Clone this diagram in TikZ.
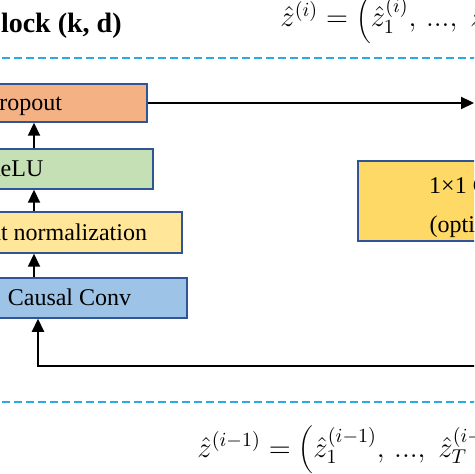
\documentclass[tikz,border=0pt]{standalone}
\usepackage{fontspec}
\setmainfont{Liberation Serif}
\usetikzlibrary{arrows.meta}
\definecolor{bordc}{HTML}{2F5597}
\definecolor{dropc}{HTML}{F4B183}
\definecolor{reluc}{HTML}{C5E0B4}
\definecolor{bnc}{HTML}{FFE699}
\definecolor{ccc}{HTML}{9DC3E6}
\definecolor{onec}{HTML}{FFD966}
\definecolor{dashc}{HTML}{2AABDF}
\begin{document}
\begin{tikzpicture}[x=0.5pt,y=-0.5pt,
  blockbox/.style={draw=bordc,line width=0.75pt,rectangle,inner sep=0pt,
    text height=8pt,text depth=0pt,font=\fontsize{12}{14}\selectfont},
  arr/.style={line width=1.1pt,-{Triangle[length=6.5pt,width=6pt]}},
  sepline/.style={draw=dashc,line width=1pt,dash pattern=on 4pt off 2pt},
  mathlbl/.style={inner sep=0pt,font=\fontsize{14}{16}\selectfont}]
\useasboundingbox (0,0) rectangle (474,474);
\clip (0,0) rectangle (474,474);
\fill[white] (0,0) rectangle (474,474);
% title and formulas
\node[anchor=base east,inner sep=0pt,font=\fontsize{14}{16}\selectfont\bfseries] (title) at (122,33) {Residual block (k, d)};
\node[mathlbl,anchor=base west] (zout) at (280,27) {$\hat{z}^{(i)} = \left(\hat{z}_1^{(i)},\, ...,\; \hat{z}_T^{(i)}\right)$};
\node[mathlbl,anchor=base west] (zin) at (197,457) {$\hat{z}^{(i-1)} = \left(\hat{z}_1^{(i-1)},\, ...,\; \hat{z}_T^{(i-1)}\right)$};
% separators
\coordinate (sepAl) at (-10,58); \coordinate (sepAr) at (484,58);
\coordinate (sepBl) at (-10,402); \coordinate (sepBr) at (484,402);
\draw[sepline] (sepAl) -- (sepAr);
\draw[sepline] (sepBl) -- (sepBr);
% boxes
\node[blockbox,fill=dropc,minimum width=250*0.5pt,minimum height=38*0.5pt] (drop) at (22,103) {Dropout};
\node[blockbox,fill=reluc,minimum width=278*0.5pt,minimum height=40*0.5pt] (relu) at (14,169) {ReLU};
\node[blockbox,fill=bnc,minimum width=278*0.5pt,minimum height=41*0.5pt] (bn) at (43,232.5) {Weight normalization};
\node[blockbox,fill=ccc,minimum width=235*0.5pt,minimum height=40*0.5pt] (cc) at (69.5,298) {Causal Conv};
\node[draw=bordc,line width=0.75pt,fill=onec,rectangle,inner sep=0pt,minimum width=238*0.5pt,minimum height=80*0.5pt] (one) at (477,201) {};
\node[inner sep=0pt,align=center,font=\fontsize{12}{19.5}\selectfont] (onetxt) at (477,208) {1×1 Conv\\(optional)};
% connectors
\coordinate (cx) at (34,0);
\coordinate (cy) at (38,0);
\coordinate (outR) at (474,103);
\coordinate (inR) at (484,366);
\draw[arr] (drop.east |- outR) -- (outR);
\draw[arr] (relu.north -| cx) -- (drop.south -| cx);
\draw[arr] (bn.north -| cx) -- (relu.south -| cx);
\draw[arr] (cc.north -| cx) -- (bn.south -| cx);
\draw[arr] (inR) -- (inR -| cy) -- (cc.south -| cy);
\end{tikzpicture}
\end{document}
